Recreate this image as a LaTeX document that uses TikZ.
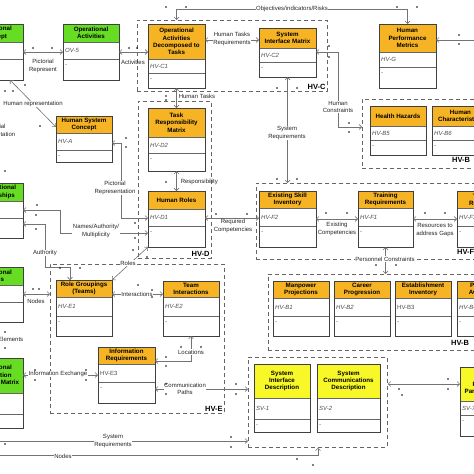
\documentclass[tikz,border=0pt]{standalone}
\usepackage{fontspec}
\setmainfont{Liberation Sans}
\usetikzlibrary{arrows.meta, positioning}

\definecolor{hvorange}{RGB}{246,180,36}
\definecolor{ovgreen}{RGB}{102,220,34}
\definecolor{svyellow}{RGB}{248,248,40}

\tikzset{
  vbox/.style={anchor=north west, inner sep=0pt, outer sep=0pt},
  vframe/.style={draw=black!75, line width=0.7pt},
  vline/.style={draw=black!60, line width=0.5pt},
  vtitle/.style={align=center, font=\bfseries\fontsize{6.2}{7.4}\selectfont, inner sep=0pt},
  vid/.style={anchor=west, font=\itshape\fontsize{6}{7}\selectfont, text=black!70, inner sep=0pt},
  region/.style={anchor=north west, draw=black!60, dash pattern=on 4pt off 3pt, line width=0.8pt, inner sep=0pt},
  rlabel/.style={font=\bfseries\fontsize{7.5}{8}\selectfont, inner sep=0pt},
  conn/.style={draw=black!55, line width=0.6pt, <->},
  lbl/.style={font=\fontsize{6}{7.6}\selectfont, align=center, inner sep=0.6pt, text=black!85},
  lblw/.style={lbl, fill=white},
}

\newcommand{\viewbox}[9]{%
  \node[vbox, minimum width=#3pt, minimum height=#4pt] (#1) at #2 {};
  \fill[#7] (#1.north west) rectangle ([yshift=-#5pt]#1.north east);
  \draw[vline] ([yshift=-#5pt]#1.north west) -- ([yshift=-#5pt]#1.north east);
  \draw[vline] ([yshift=-#5pt-#6pt]#1.north west) -- ([yshift=-#5pt-#6pt]#1.north east);
  \draw[vframe] (#1.north west) rectangle (#1.south east);
  \node[vtitle] (#1t) at ([yshift=-#5pt/2]#1.north) {#8};
  \node[vid] (#1i) at ([xshift=2pt,yshift=-#5pt-#6pt/2]#1.north west) {#9};
  \node[vid] (#1d) at ([xshift=2pt,yshift=-#5pt-#6pt-7pt]#1.north west) {-};
}

\begin{document}
\begin{tikzpicture}[x=1pt, y=-1pt, >={Straight Barb[length=2.5pt,width=5pt]}]

	\useasboundingbox (0,0) rectangle (474,474);
	\fill[white] (0,0) rectangle (474,474);
	\clip (0,0) rectangle (474,474);

	\node[region, minimum width=190pt, minimum height=71pt] (hvc) at (137,20) {};
	\node[region, minimum width=73pt, minimum height=157pt] (hvd) at (138,101) {};
	\node[region, minimum width=130pt, minimum height=69pt] (hvbt) at (362,99) {};
	\node[region, minimum width=240pt, minimum height=76pt] (hvf) at (256,183) {};
	\node[region, minimum width=230pt, minimum height=76pt] (hvb) at (268,274) {};
	\node[region, minimum width=174pt, minimum height=149pt] (hve) at (50,264) {};
	\node[region, minimum width=139pt, minimum height=90pt] (sv) at (248,357) {};

	\node[rlabel, anchor=south east] (hvcl) at ([shift={(-2pt,2pt)}]hvc.south east) {HV-C};
	\node[rlabel, anchor=south east] (hvdl) at ([shift={(-2pt,2pt)}]hvd.south east) {HV-D};
	\node[rlabel, anchor=south east] (hvel) at ([shift={(-2pt,2pt)}]hve.south east) {HV-E};
	\node[rlabel, anchor=west] (hvbtl) at (452,160) {HV-B};
	\node[rlabel, anchor=west] (hvfl) at (457,252) {HV-F};
	\node[rlabel, anchor=west] (hvbl) at (451,343) {HV-B};

	\viewbox{oc}{(-34,24)}{57}{56}{18}{17}{ovgreen}{Operational\\Concept}{OV-1}
	\viewbox{oa}{(63,24)}{56}{56}{18}{17}{ovgreen}{Operational\\Activities}{OV-5}
	\viewbox{org}{(-34,183)}{57}{55}{18}{17}{ovgreen}{Organizational\\Relationships}{OV-4}
	\viewbox{ond}{(-34,267)}{57}{55}{18}{17}{ovgreen}{Operational\\Nodes}{OV-2}
	\viewbox{oie}{(-34,358)}{57}{70}{35}{21}{ovgreen}{Operational\\Information\\Exchange Matrix}{OV-3}

	\viewbox{hvc1}{(148,24)}{57}{64}{35}{14}{hvorange}{Operational\\Activities\\Decomposed to\\Tasks}{HV-C1}
	\viewbox{hvc2}{(259,28)}{57}{49}{20}{14}{hvorange}{System\\Interface Matrix}{HV-C2}
	\viewbox{hvg}{(379,24)}{57}{64}{28}{15}{hvorange}{Human\\Performance\\Metrics}{HV-G}
	\viewbox{hva}{(56,116)}{56}{46}{17}{17}{hvorange}{Human System\\Concept}{HV-A}
	\viewbox{hvd2}{(148,108)}{57}{63}{29}{16}{hvorange}{Task\\Responsibility\\Matrix}{HV-D2}
	\viewbox{hvd1}{(148,191)}{57}{56}{18}{17}{hvorange}{Human Roles}{HV-D1}
	\viewbox{hvb5}{(370,106)}{56}{49}{20}{14}{hvorange}{Health Hazards}{HV-B5}
	\viewbox{hvb6}{(432,106)}{57}{49}{20}{14}{hvorange}{Human\\Characteristics}{HV-B6}
	\viewbox{hvf2}{(259,191)}{57}{56}{17}{18}{hvorange}{Existing Skill\\Inventory}{HV-F2}
	\viewbox{hvf1}{(358,191)}{55}{56}{17}{18}{hvorange}{Training\\Requirements}{HV-F1}
	\viewbox{hvf3}{(457,191)}{56}{56}{17}{18}{hvorange}{Training\\Resources}{HV-F3}
	\viewbox{hve1}{(56,280)}{56}{56}{17}{19}{hvorange}{Role Groupings\\(Teams)}{HV-E1}
	\viewbox{hve2}{(163,281)}{56}{55}{16}{19}{hvorange}{Team\\Interactions}{HV-E2}
	\viewbox{hve3}{(98,347)}{57}{56}{17}{18}{hvorange}{Information\\Requirements}{\upshape HV-E3}
	\viewbox{hvb1}{(273,281)}{56}{55}{17}{18}{hvorange}{Manpower\\Projections}{HV-B1}
	\viewbox{hvb2}{(334,281)}{56}{55}{17}{18}{hvorange}{Career\\Progression}{HV-B2}
	\viewbox{hvb3}{(395,281)}{56}{55}{17}{18}{hvorange}{Establishment\\Inventory}{\upshape HV-B3}
	\viewbox{hvb4}{(457,281)}{56}{55}{17}{18}{hvorange}{Personnel\\Availability}{HV-B4}

	\viewbox{sv1}{(254,364)}{56}{68}{34}{21}{svyellow}{System\\Interface\\Description}{SV-1}
	\viewbox{sv2}{(317,364)}{63}{68}{34}{21}{svyellow}{System\\Communications\\Description}{SV-2}
	\viewbox{sv7}{(460,367)}{63}{69}{34}{14}{svyellow}{System\\Performance\\Parameters Matrix}{SV-7}

	\coordinate (offhpm) at (490,40);
	\coordinate (offsr) at (-10,441);
	\coordinate (offnd) at (-10,455);

	\draw[conn] (oc.east |- 0,52) -- (oa.west |- 0,52);
	\draw[conn] (oa.east |- 0,52) -- (hvc1.west |- 0,52);
	\draw[conn] (hvc1.east |- 0,40) -- (hvc2.west |- 0,40);
	\draw[conn] (hvc1.south) -- (hvd2.north);
	\draw[conn] (hvd2.south) -- (hvd1.north);
	\draw[conn] (hvc1.north |- hvc.north) -- (hvc1.north |- 0,9) -- (hvg.north |- 0,9) -- (hvg.north);
	\draw[conn, <-] (hvg.east |- 0,40) -- (offhpm);
	\draw[conn] (hvc2.south) -- (hvc2.south |- hvf.north);
	\draw[conn] (hvc2.east |- 0,52) -- (338,52) |- (hvbt.west |- 0,127);
	\draw[conn] ([xshift=-13pt]oc.south east) -- ([yshift=-11pt]hva.north west);
	\draw[conn] (hva.east |- 0,143) -- (121,143) |- (hvd1.west |- 0,218);
	\draw[conn] (org.east |- 0,210) -- (60,210) |- (hvd1.west |- 0,233);
	\draw[conn] (org.east |- 0,224) -- (45,224) -- (45,267) -- (70,267) -- (hve1.north -| 70,0);
	\draw[conn] (hvd1.south west) -- (hve1.north east);
	\draw[conn] (ond.east |- 0,294) -- (hve.west |- 0,294);
	\draw[conn] (hve1.east |- 0,294) -- (hve2.west |- 0,294);
	\draw[conn] (hve2.south) -- (hve2.south |- 0,361) -- (hve3.east |- 0,361);
	\draw[conn] (oie.east |- 0,375) -- (hve3.west |- 0,375);
	\draw[conn] (hve3.east |- 0,389) -- (sv.west |- 0,389);
	\draw[conn] (hvd1.east |- 0,218) -- (hvf2.west |- 0,218);
	\draw[conn] (hvf2.east |- 0,219) -- (hvf1.west |- 0,219);
	\draw[conn] (hvf1.east |- 0,219) -- (hvf3.west |- 0,219);
	\draw[conn] (hvf1.south) -- (hvf1.south |- hvb.north);
	\draw[conn] (sv.east |- 0,384) -- (sv7.west |- 0,384);
	\draw[conn, ->] (offsr) -- (sv.west |- 0,441);
	\draw[conn, ->] (offnd) -- (318,455) -- (318,0 |- sv.south);

	\node[lbl] (lpic1) at (43,66) {Pictorial\\Represent};
	\node[lbl] (lact) at (133,62) {Activities};
	\node[lblw] (lhtr) at (232,39) {Human Tasks\\Requirements};
	\node[lbl, anchor=west] (lht) at (178,96) {Human Tasks};
	\node[lbl, anchor=west] (lresp) at (180,182) {Responsibility};
	\node[lblw] (lobj) at (292,9) {Objectives/indicators/Risks};
	\node[lblw] (lsysr) at (287,133) {System\\Requirements};
	\node[lblw] (lhc) at (338,107) {Human\\Constraints};
	\node[lblw] (lhrep) at (33,104) {Human representation};
	\node[lbl, anchor=east] (lpic2) at (16,131) {Pictorial\\Representation};
	\node[lblw] (lpic3) at (115,188) {Pictorial\\Representation};
	\node[lblw] (lnam) at (96,231) {Names/Authority/\\Multiplicity};
	\node[lblw] (lauth) at (45,253) {Authority};
	\node[lblw] (lroles) at (128,263) {Roles};
	\node[lbl] (lnod1) at (36,301) {Nodes};
	\node[lblw] (lint) at (137,294) {Interactions};
	\node[lblw] (lloc) at (191,352) {Locations};
	\node[lblw] (lie) at (58,374) {Information Exchange};
	\node[lblw] (lcom) at (185,389) {Communication\\Paths};
	\node[lblw] (lreq) at (233,226) {Required\\Competencies};
	\node[lbl] (lexi) at (337,229) {Existing\\Competencies};
	\node[lbl] (lres) at (435,230) {Resources to\\address Gaps};
	\node[lblw] (lpers) at (385,259) {Personnel Constraints};
	\node[lblw] (lsysr2) at (113,441) {System\\Requirements};
	\node[lblw] (lnod2) at (63,456) {Nodes};
	\node[lbl, anchor=east] (lelem) at (24,339) {Elements};

	\foreach \p in {(33,48),(52,48),(129,48),(137,48),(5,91),(13,91),(25,85),(40,126),(126,138),(126,147),
	  (166,7),(186,7),(166,96),(166,100),(277,88),(297,88),(397,7),(417,7),(459,35),(459,44),(329,46),(329,57),
	  (349,123),(349,132),(5,171),(37,205),(36,215),(36,229),(135,223),(135,238),(133,250),(60,268),(80,268),
	  (33,289),(39,289),(138,285),(166,182),(277,179),(297,179),(216,214),(247,214),(147,257),(152,290),(152,297),
	  (326,213),(347,213),(425,213),(445,213),(376,265),(396,265),(5,332),(5,348),(35,370),(35,380),(86,370),(86,380),
	  (181,347),(201,347),(166,357),(166,366),(166,384),(166,394),(236,384),(236,394),(231,437),(231,447),(297,459),
	  (399,389),(402,395),(448,379),(448,389),(313,465),(5,444)}
	  \fill[black] \p circle (0.8pt);

\end{tikzpicture}
\end{document}
